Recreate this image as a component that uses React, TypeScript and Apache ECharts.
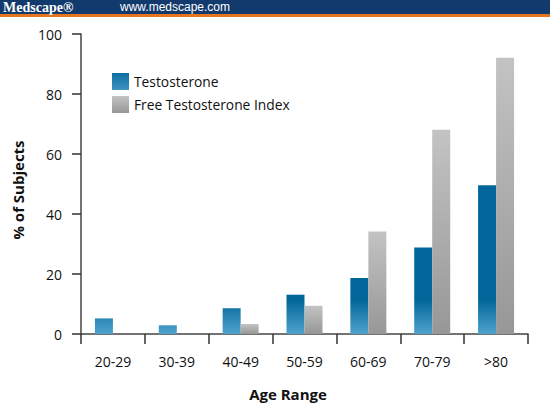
import { useRef, useEffect } from 'react';
import * as echarts from 'echarts';

const ageRanges = ['20-29', '30-39', '40-49', '50-59', '60-69', '70-79', '>80'];
const testosterone = [5.2, 2.9, 8.6, 13.1, 18.7, 28.8, 49.6];
const freeTestosteroneIndex = [0, 0, 3.3, 9.4, 34.2, 68.1, 92.1];
const yTicks = { min: 0, max: 100, interval: 20 };

const FONT = '"Open Sans", "DejaVu Sans", sans-serif';

export default function App() {
  const chartRef = useRef<HTMLDivElement>(null);
  useEffect(() => {
    let chart: echarts.ECharts | undefined;
    if (chartRef.current) {
      chart = echarts.init(chartRef.current, undefined, { renderer: 'svg' });
      // blue bars fade to a lighter tone near the baseline
      const blueBars = {
        type: 'linear',
        x: 0,
        y: 300,
        x2: 0,
        y2: 334,
        global: true,
        colorStops: [
          { offset: 0, color: '#02669a' },
          { offset: 1, color: '#4fa2cc' },
        ],
      };
      const blueIcon = {
        type: 'linear', x: 0, y: 0, x2: 0, y2: 1,
        colorStops: [
          { offset: 0, color: '#0d6ea3' },
          { offset: 1, color: '#3f93c2' },
        ],
      };
      const grey = {
        type: 'linear', x: 0, y: 0, x2: 0, y2: 1,
        colorStops: [
          { offset: 0, color: '#c3c3c3' },
          { offset: 1, color: '#979797' },
        ],
      };
      chart.setOption({
        animation: false,
        backgroundColor: '#ffffff',
        grid: { left: 81, right: 22, top: 34, bottom: 76, containLabel: false },
        legend: {
          orient: 'vertical',
          left: 112,
          top: 73,
          padding: 0,
          itemWidth: 17,
          itemHeight: 17,
          itemGap: 6,
          icon: 'rect',
          textStyle: { fontFamily: FONT, fontSize: 13.8, color: '#111' },
          data: [
            { name: 'Testosterone', itemStyle: { color: blueIcon } },
            { name: 'Free Testosterone Index', itemStyle: { color: grey } },
          ],
        },
        xAxis: {
          type: 'category',
          data: ageRanges,
          axisLine: { lineStyle: { color: '#444', width: 1.5 } },
          axisTick: { show: true, length: 10, interval: 0, lineStyle: { color: '#333', width: 1.5 } },
          axisLabel: { margin: 20, fontFamily: FONT, fontSize: 14, color: '#111', interval: 0 },
        },
        yAxis: {
          type: 'value',
          min: yTicks.min,
          max: yTicks.max,
          interval: yTicks.interval,
          axisLine: { show: true, lineStyle: { color: '#444', width: 1.5 } },
          axisTick: { show: true, length: 9, lineStyle: { color: '#333', width: 1.5 } },
          axisLabel: { margin: 19, fontFamily: FONT, fontSize: 14, color: '#111' },
          splitLine: { show: false },
        },
        series: [
          {
            name: 'Testosterone',
            type: 'bar',
            data: testosterone,
            barWidth: 18,
            barGap: '0%',
            itemStyle: { color: blueBars },
          },
          {
            name: 'Free Testosterone Index',
            type: 'bar',
            data: freeTestosteroneIndex,
            barWidth: 18,
            itemStyle: { color: grey },
          },
        ],
        graphic: [
          { type: 'rect', shape: { x: 0, y: 0, width: 550, height: 14 }, style: { fill: '#133a6c' } },
          { type: 'rect', shape: { x: 0, y: 14, width: 550, height: 3 }, style: { fill: '#e5751f' } },
          {
            type: 'text', x: 3, y: 7,
            style: { text: 'Medscape®', fill: '#fff', font: 'bold 14px "Liberation Serif", serif', verticalAlign: 'middle' },
          },
          {
            type: 'text', x: 120, y: 7,
            style: { text: 'www.medscape.com', fill: '#fff', font: '12px "Liberation Sans", Arial, sans-serif', verticalAlign: 'middle' },
          },
          {
            type: 'text', x: 288, y: 394,
            style: { text: 'Age Range', fill: '#111', font: `bold 15px ${FONT}`, align: 'center', verticalAlign: 'middle' },
          },
          {
            type: 'text', x: 18, y: 190, rotation: Math.PI / 2,
            style: { text: '% of Subjects', fill: '#111', font: `bold 15px ${FONT}`, align: 'center', verticalAlign: 'middle' },
          },
        ],
      });
    }
    return () => {
      chart?.dispose();
    };
  }, []);

  return (
    <div
      ref={chartRef}
      style={{ position: 'fixed', left: 0, top: 0, width: 550, height: 410 }}
    />
  );
}
